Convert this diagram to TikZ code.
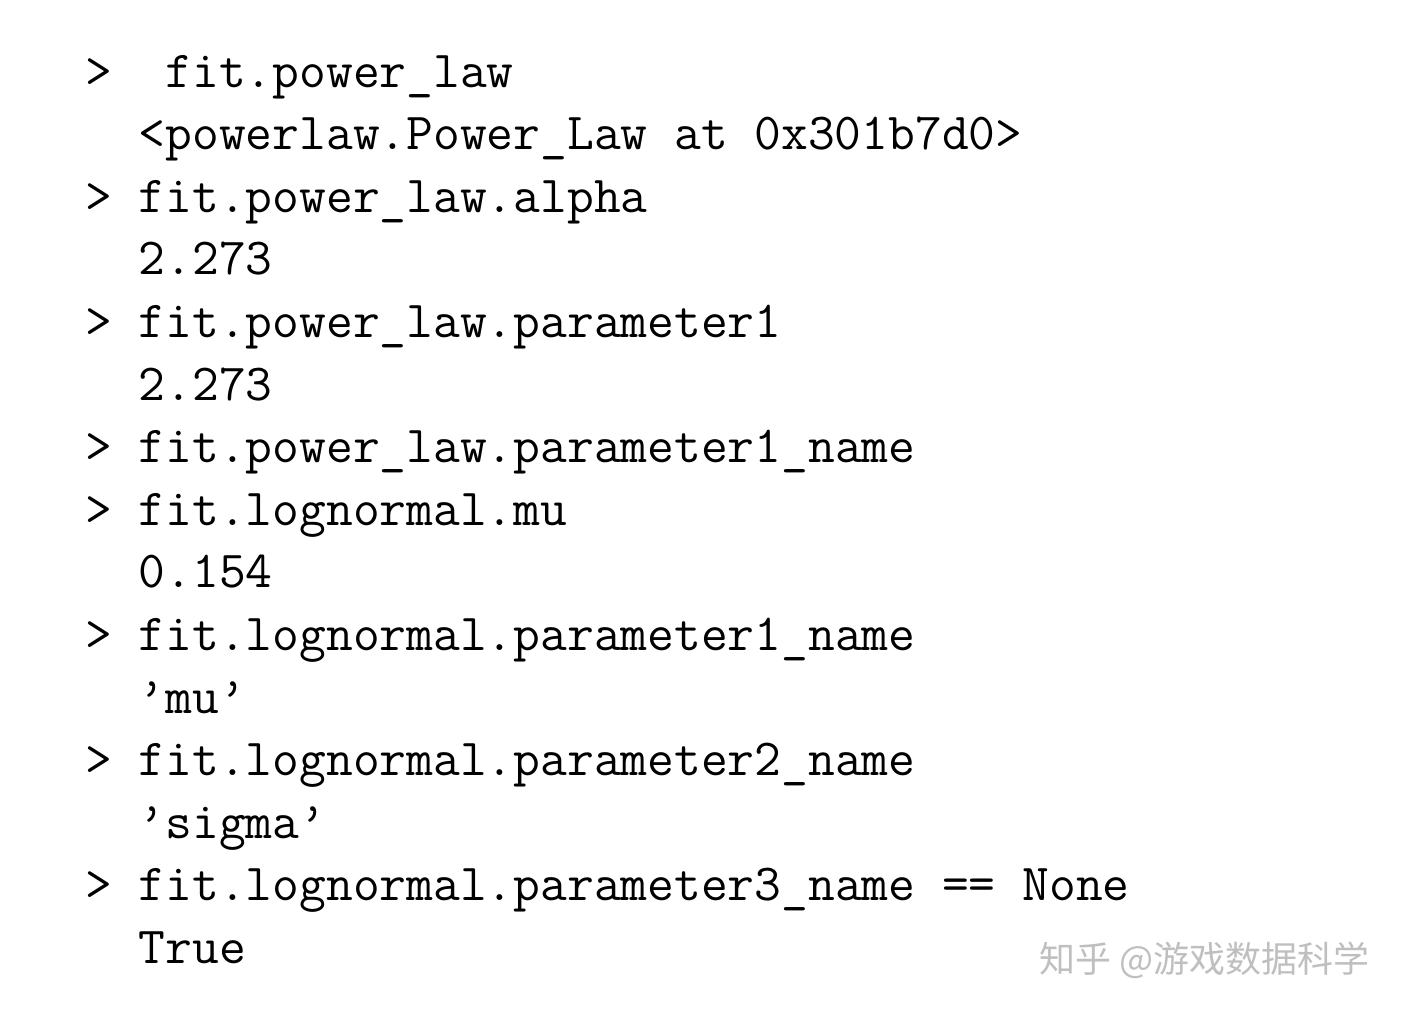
\documentclass[tikz,border=0pt]{standalone}
\usepackage{fontspec}
\setmonofont{Latin Modern Mono}
\newfontfamily\cjk{Noto Sans CJK SC}
\begin{document}
\begin{tikzpicture}[x=1pt,y=-1pt,
  ln/.style={anchor=base west,inner sep=0pt,font=\fontsize{52}{60}\selectfont\ttfamily}]
\useasboundingbox (0,0) rectangle (1406,1018);
\foreach \t [count=\i from 0] in {
 >\ \ fit.power\_law,
 \ \ <powerlaw.Power\_Law at 0x301b7d0>,
 > fit.power\_law.alpha,
 \ \ 2.273,
 > fit.power\_law.parameter1,
 \ \ 2.273,
 > fit.power\_law.parameter1\_name,
 > fit.lognormal.mu,
 \ \ 0.154,
 > fit.lognormal.parameter1\_name,
 \ \ ’mu’,
 > fit.lognormal.parameter2\_name,
 \ \ ’sigma’,
 > fit.lognormal.parameter3\_name == None,
 \ \ True}
 \node[ln] (l\i) at (85,{87+62.6*\i}) {\t};
\node[anchor=east,inner sep=0pt,text=black!25,font=\cjk\fontsize{36}{40}\selectfont] (wm) at (1370,960) {知乎 @游戏数据科学};
\end{tikzpicture}
\end{document}
